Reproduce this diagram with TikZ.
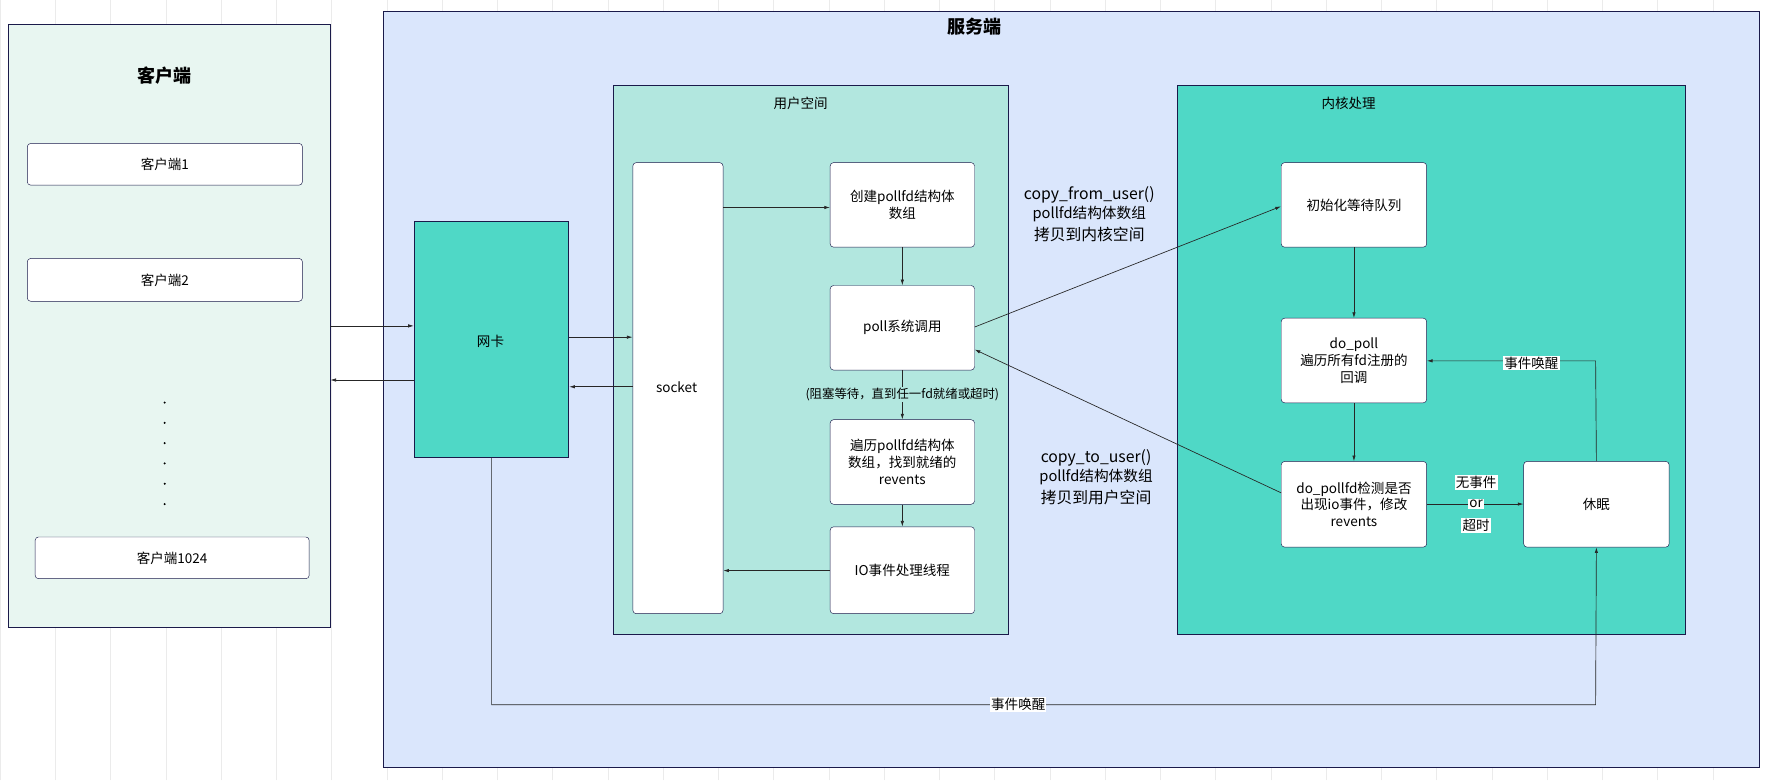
\documentclass[tikz,border=0pt]{standalone}
\usepackage{fontspec}
\setmainfont{Noto Sans CJK SC}
\usetikzlibrary{arrows.meta}
\definecolor{bd}{HTML}{1A1A4A}
\definecolor{cli}{HTML}{E8F6F1}
\definecolor{srv}{HTML}{DAE6FC}
\definecolor{usr}{HTML}{B2E7DF}
\definecolor{ker}{HTML}{4FD8C6}
\begin{document}
\begin{tikzpicture}[x=1pt,y=-1pt,
  every node/.style={font=\fontsize{12}{15}\selectfont,align=center},
  area/.style={draw=bd,line width=0.8pt,anchor=north west,inner sep=0},
  box/.style={draw=bd,fill=white,rounded corners=3pt,anchor=north west,inner sep=0},
  arr/.style={-{Latex[length=5pt,width=3pt]},line width=0.6pt,draw=black!85},
  lbl/.style={fill=white,inner sep=1pt}]
\useasboundingbox (0,0) rectangle (1567,692);
\fill[white] (0,0) rectangle (1567,692);
\draw[black!8,step=49] (0,0) grid (1567,692);
% client
\node[area,fill=cli,minimum width=286,minimum height=535] (cl) at (7,21) {};
\node[font=\fontsize{16}{18}\selectfont\bfseries] (clt) at (146,67) {客户端};
\node[box,minimum width=244,minimum height=37] (c1) at (24,127) {};
\node (c1t) at (c1.center) {客户端1};
\node[box,minimum width=244,minimum height=38] (c2) at (24,229) {};
\node (c2t) at (c2.center) {客户端2};
\node[box,minimum width=243,minimum height=37] (c3) at (31,476) {};
\node (c3t) at (c3.center) {客户端1024};
\foreach \y/\n in {357/a,375/b,393/c,411/d,429/e,447/f} \fill (146,\y) circle (1);
% server
\node[area,fill=srv,minimum width=1220,minimum height=670] (sv) at (340,10) {};
\node[font=\fontsize{16}{18}\selectfont\bfseries] (svt) at (864,24) {服务端};
\node[area,fill=usr,minimum width=350,minimum height=487] (us) at (544,75) {};
\node (ust) at (710,92) {用户空间};
\node[area,fill=ker,minimum width=450,minimum height=487] (kr) at (1044,75) {};
\node (krt) at (1196,92) {内核处理};
\node[area,fill=ker,minimum width=137,minimum height=209] (nic) at (367,196) {};
\node (nict) at (435,303) {网卡};
\node[box,minimum width=80,minimum height=400] (sk) at (561,144) {};
\node (skt) at (600,343) {socket};
\node[box,minimum width=128,minimum height=75] (cr) at (736,144) {};
\node (crt) at (cr.center) {创建pollfd结构体\\数组};
\node[box,minimum width=128,minimum height=75] (po) at (736,253) {};
\node (pot) at (po.center) {poll系统调用};
\node[box,minimum width=128,minimum height=75] (tr) at (736,372) {};
\node (trt) at (tr.center) {遍历pollfd结构体\\数组，找到就绪的\\revents};
\node[box,minimum width=128,minimum height=77] (io) at (736,467) {};
\node (iot) at (io.center) {IO事件处理线程};
\node[box,minimum width=129,minimum height=75] (iq) at (1136,144) {};
\node (iqt) at (iq.center) {初始化等待队列};
\node[box,minimum width=129,minimum height=75] (dp) at (1136,282) {};
\node (dpt) at (dp.center) {do\_poll\\遍历所有fd注册的\\回调};
\node[box,minimum width=129,minimum height=76] (df) at (1136,409) {};
\node (dft) at (df.center) {do\_pollfd检测是否\\出现io事件，修改\\revents};
\node[box,minimum width=129,minimum height=76] (sl) at (1351,409) {};
\node (slt) at (sl.center) {休眠};
% connectors
\coordinate (p1) at (293,289); \coordinate (p2) at (367,289);
\draw[arr] (p1) -- (p2);
\coordinate (p3) at (367,337); \coordinate (p4) at (293,337);
\draw[arr] (p3) -- (p4);
\draw[arr] (nic.east|-0,299) -- (sk.west|-0,299);
\draw[arr] (sk.west|-0,343) -- (nic.east|-0,343);
\draw[arr] (sk.east|-0,184) -- (cr.west|-0,184);
\draw[arr] (cr) -- (po);
\draw[arr] (po) -- (tr) node[pos=0.5,font=\fontsize{11}{13}\selectfont,fill=usr,inner sep=1pt] {(阻塞等待，直到任一fd就绪或超时)};
\draw[arr] (tr) -- (io);
\draw[arr] (io.west|-0,506) -- (sk.east|-0,506);
\draw[arr] (po.east|-0,290) -- (iq.west|-0,183);
\draw[arr] (df.west|-0,437) -- (po.east|-0,310);
\node[font=\fontsize{14}{19}\selectfont] (cf) at (966,190) {copy\_from\_user()\\[-2pt]{\fontsize{13}{17}\selectfont pollfd结构体数组}\\拷贝到内核空间};
\node[font=\fontsize{14}{19}\selectfont] (ct) at (972,423) {copy\_to\_user()\\[-2pt]{\fontsize{13}{17}\selectfont pollfd结构体数组}\\拷贝到用户空间};
\draw[arr] (iq) -- (dp);
\draw[arr] (dp) -- (df);
\draw[arr] (df.east|-0,447) -- (sl.west|-0,447);
\node[lbl] (n1) at (1309,428) {无事件};
\node[lbl] (n2) at (1309,447) {or};
\node[lbl] (n3) at (1309,466) {超时};
\coordinate (q1) at (1415,320);
\draw[arr] (sl.north) -- (q1) -- (dp.east|-q1);
\node[lbl] (w1) at (1358,322) {事件唤醒};
\coordinate (r1) at (436,625); \coordinate (r2) at (1415,625);
\draw[arr] (nic.south-|r1) -- (r1) -- (r2) -- (sl.south);
\node[lbl] (w2) at (903,625) {事件唤醒};
\end{tikzpicture}
\end{document}
